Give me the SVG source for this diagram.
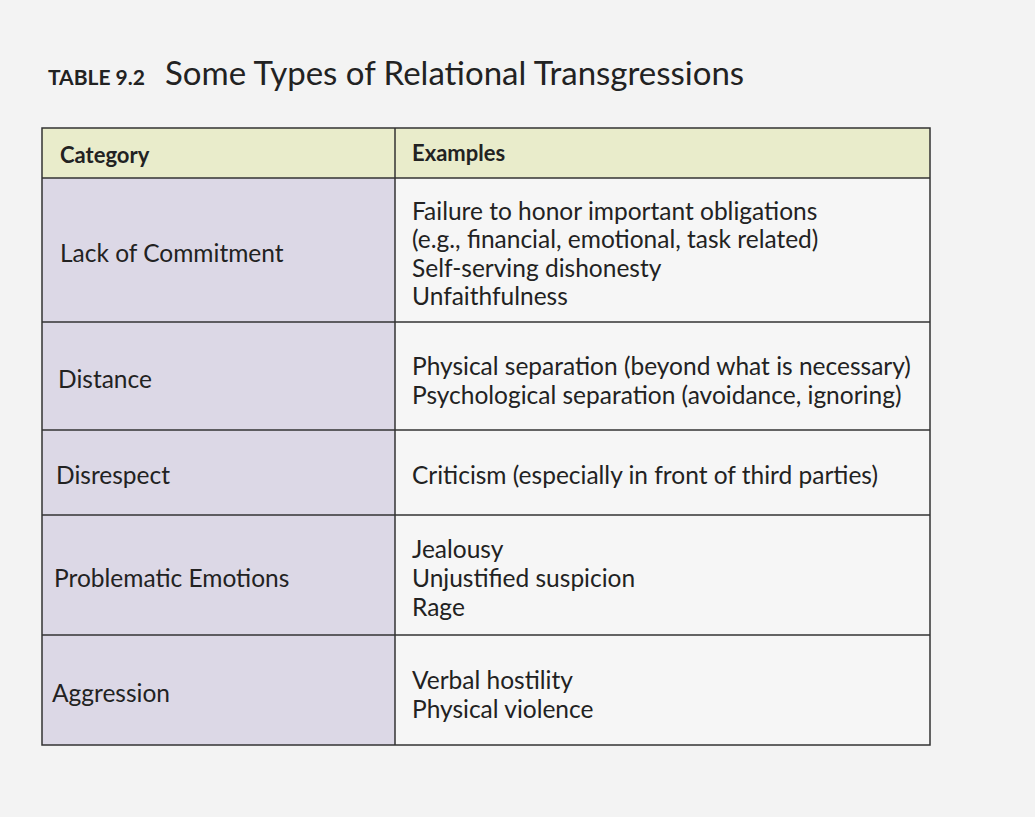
<svg xmlns="http://www.w3.org/2000/svg" width="1035" height="817" viewBox="0 0 1035 817">
<style>
.t{font-family:"Lato","Liberation Sans",sans-serif;fill:#222;font-size:24.5px}
.h{font-family:"Lato","Liberation Sans",sans-serif;fill:#222;font-size:22px;font-weight:bold}
.ln{stroke:#333;stroke-width:1.5;fill:none}
</style>
<rect width="1035" height="817" fill="#f3f3f3"/>
<g id="title">
<text x="48" y="85" font-family="Lato,'Liberation Sans',sans-serif" font-size="21" font-weight="bold" fill="#222">TABLE 9.2</text>
<text x="165" y="85" font-family="Lato,'Liberation Sans',sans-serif" font-size="33" fill="#222">Some Types of Relational Transgressions</text>
</g>
<g id="table">
<rect x="42" y="128" width="888" height="50" fill="#e9eccb"/>
<rect x="42" y="178" width="353" height="567" fill="#dcd8e6"/>
<rect x="395" y="178" width="535" height="567" fill="#f6f6f6"/>
<rect x="42" y="128" width="888" height="617" class="ln"/>
<line x1="395" y1="128" x2="395" y2="745" class="ln"/>
<line x1="42" y1="178" x2="930" y2="178" class="ln"/>
<line x1="42" y1="322" x2="930" y2="322" class="ln"/>
<line x1="42" y1="430" x2="930" y2="430" class="ln"/>
<line x1="42" y1="515" x2="930" y2="515" class="ln"/>
<line x1="42" y1="635" x2="930" y2="635" class="ln"/>
</g>
<g id="header">
<text class="h" x="60" y="163">Category</text>
<text class="h" x="412" y="161">Examples</text>
</g>
<g id="row1">
<text class="t" x="60" y="262">Lack of Commitment</text>
<text class="t" x="412" y="220">Failure to honor important obligations</text>
<text class="t" x="412" y="248">(e.g., financial, emotional, task related)</text>
<text class="t" x="412" y="277">Self-serving dishonesty</text>
<text class="t" x="412" y="305">Unfaithfulness</text>
</g>
<g id="row2">
<text class="t" x="58" y="388">Distance</text>
<text class="t" x="412" y="375">Physical separation (beyond what is necessary)</text>
<text class="t" x="412" y="404">Psychological separation (avoidance, ignoring)</text>
</g>
<g id="row3">
<text class="t" x="56" y="484">Disrespect</text>
<text class="t" x="412" y="484">Criticism (especially in front of third parties)</text>
</g>
<g id="row4">
<text class="t" x="54" y="587">Problematic Emotions</text>
<text class="t" x="412" y="558">Jealousy</text>
<text class="t" x="412" y="587">Unjustified suspicion</text>
<text class="t" x="412" y="616">Rage</text>
</g>
<g id="row5">
<text class="t" x="52" y="702">Aggression</text>
<text class="t" x="412" y="689">Verbal hostility</text>
<text class="t" x="412" y="718">Physical violence</text>
</g>
</svg>
